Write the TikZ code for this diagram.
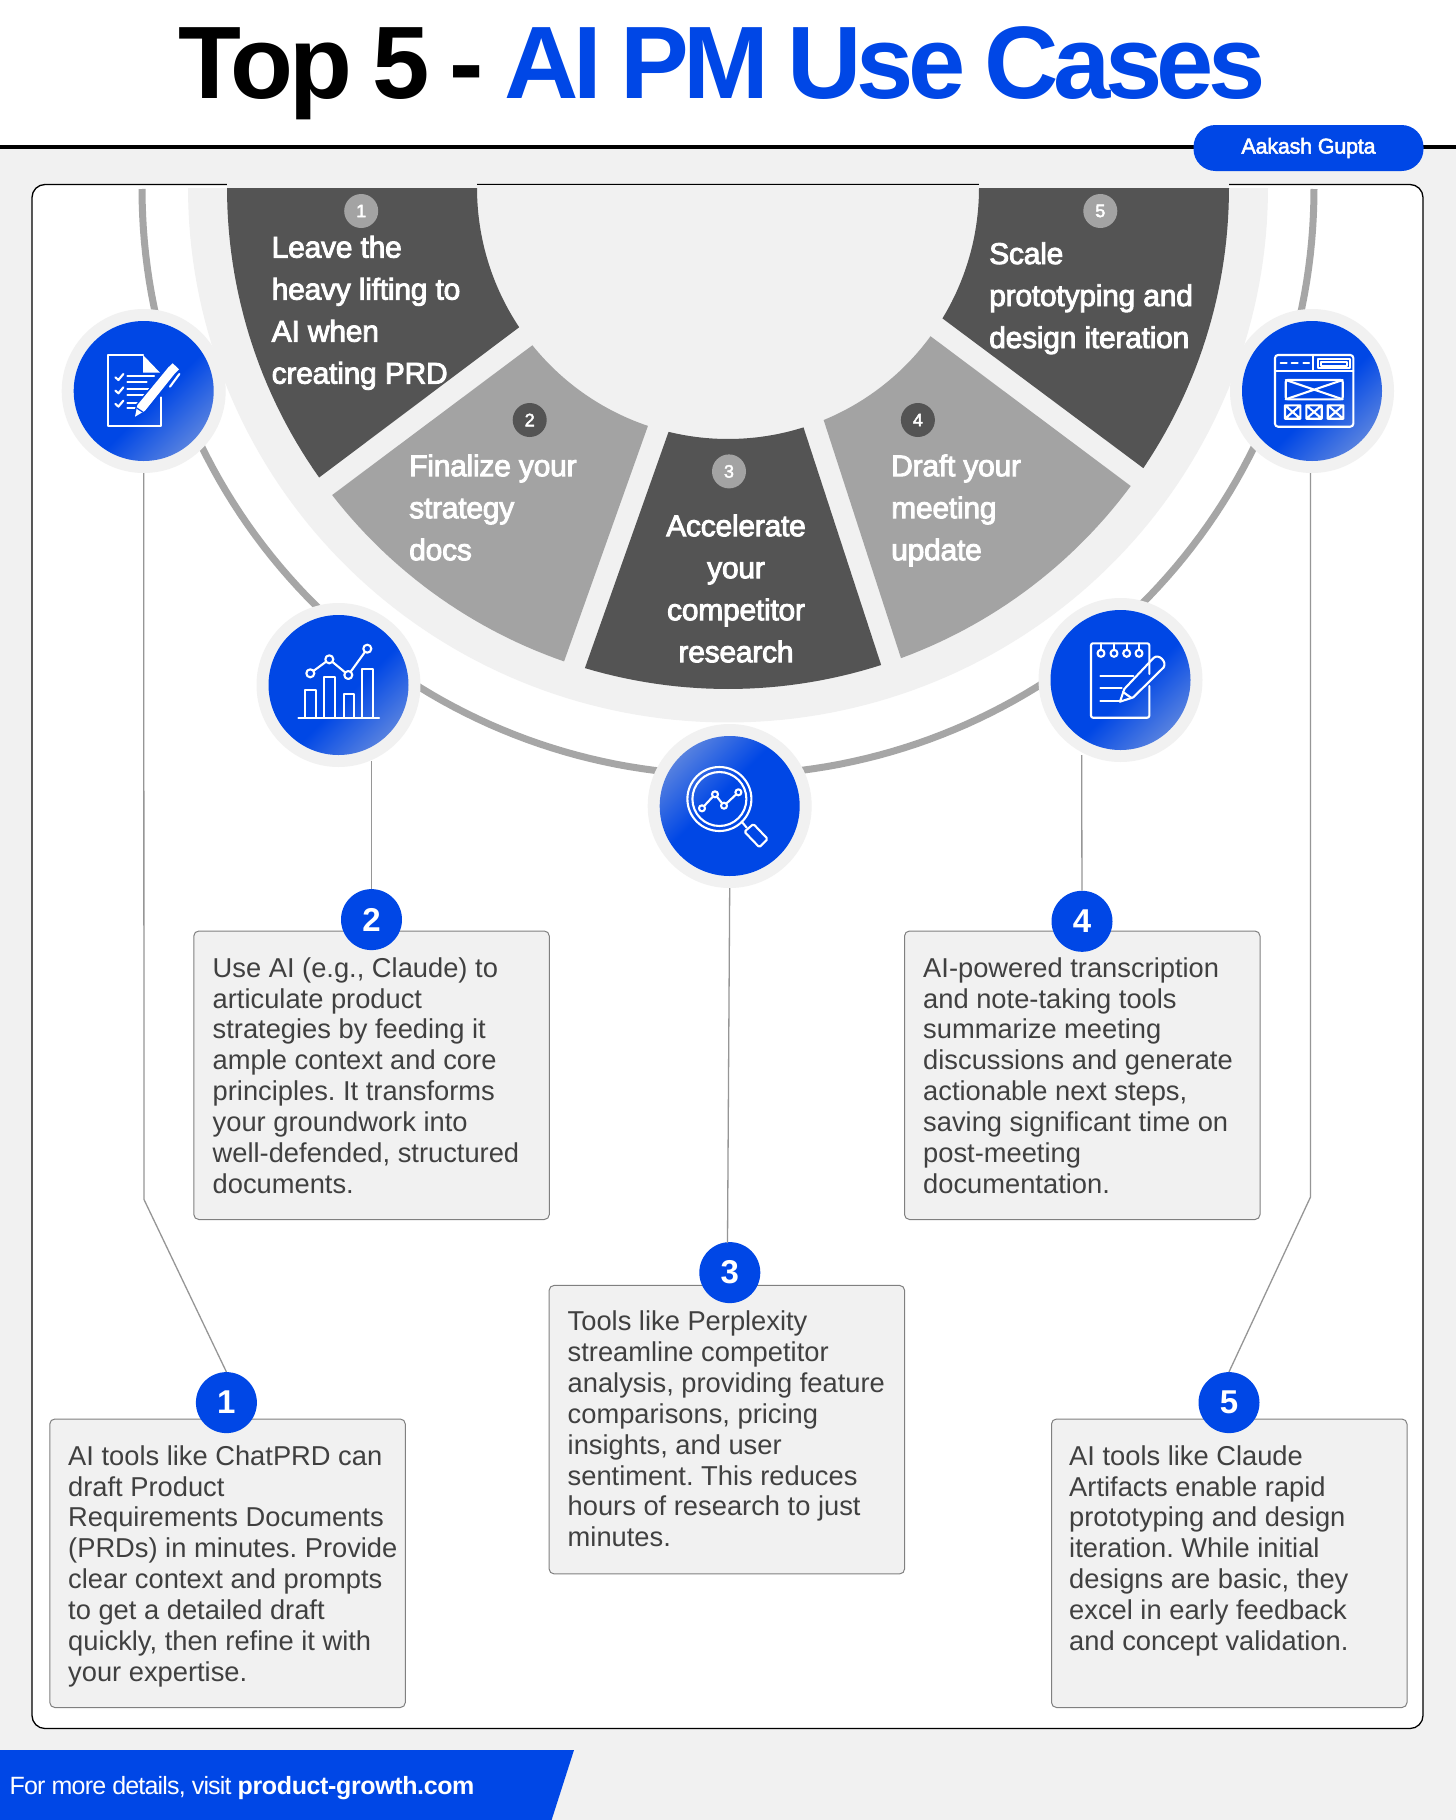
\documentclass[tikz,border=0pt]{standalone}
\usepackage{fontspec}
\setmainfont{Liberation Sans}
\newfontfamily\titlefont[LetterSpace=-3.5,WordSpace=0.8]{Liberation Sans Bold}
\newfontfamily\titlebluefont[LetterSpace=-5.3,WordSpace=0.8]{Liberation Sans Bold}
\newfontfamily\wheelfont[LetterSpace=-0.8,FakeBold=3]{Liberation Sans}
\newfontfamily\pillfont[LetterSpace=-1,FakeBold=2.5]{Liberation Sans}
\newfontfamily\footfont[LetterSpace=-3.3]{Liberation Sans}
\newfontfamily\footbold[LetterSpace=-1.5]{Liberation Sans Bold}
\newfontfamily\numfont{Liberation Sans Bold}
\newfontfamily\smallnumfont[FakeBold=2.5]{Liberation Sans}
\definecolor{brand}{RGB}{0,71,230}
\definecolor{panelbg}{RGB}{241,241,241}
\definecolor{wedgedark}{RGB}{84,84,84}
\definecolor{wedgelight}{RGB}{163,163,163}
\definecolor{ringgray}{RGB}{166,166,166}
\definecolor{connector}{RGB}{150,150,150}
\definecolor{bodyink}{RGB}{64,64,64}
\pgfdeclarehorizontalshading{iconglow}{100bp}{rgb(0bp)=(0,.278,.9); rgb(55bp)=(0,.278,.9); rgb(80bp)=(.42,.56,.87); rgb(100bp)=(.42,.56,.87)}
\tikzset{
  halo/.style={circle,fill=panelbg,minimum size=164pt,inner sep=0pt},
  core/.style={circle,shade,shading=iconglow,shading angle=-45,minimum size=140pt,inner sep=0pt},
  glyph/.style={draw=white,line width=2.1pt,line join=round,line cap=round},
  glyphhole/.style={glyph,fill=brand},
  infobox/.style={draw=gray,line width=1pt,fill=panelbg,rounded corners=5pt,minimum width=355.5pt,minimum height=288.5pt,inner sep=0pt,anchor=north west},
  bodytext/.style={anchor=north west,inner sep=0pt,align=left,text=bodyink,font=\frenchspacing\fontsize{27.3}{30.85}\selectfont},
  wheeltext/.style={anchor=north west,inner sep=0pt,align=left,text=white,font=\wheelfont\fontsize{30}{42}\selectfont},
  wheelcenter/.style={wheeltext,anchor=north,align=center},
  bignum/.style={circle,fill=brand,text=white,minimum size=61pt,inner sep=0pt,font=\numfont\fontsize{33}{33}\selectfont},
  smallnum/.style={circle,text=white,minimum size=34pt,inner sep=0pt,font=\smallnumfont\fontsize{18}{18}\selectfont},
  link/.style={draw=connector,line width=1.3pt},
}
\newcommand\wheelseg[5]{\fill[#5] plot[domain=#1:#2,samples=30] ({728+501*cos(\x)},{188+501*sin(\x)}) -- plot[domain=#3:#4,samples=30] ({728+251*cos(\x)},{188+251*sin(\x)}) -- cycle;}
\begin{document}
\begin{tikzpicture}[x=1pt,y=-1pt]
\useasboundingbox (0,0) rectangle (1456,1820);
\fill[white] (0,0) rectangle (1456,147);
\fill[panelbg] (0,147) rectangle (1456,1820);
\draw[black,line width=4pt] (0,147) -- (1456,147);
% panel
\draw[black,line width=1.3pt,fill=white,rounded corners=13pt] (32,184.5) rectangle (1423,1728.5);
% ring
\draw[ringgray,line width=7pt] plot[domain=180:0,samples=140] ({728+586*cos(\x)},{189+586*sin(\x)});
% band
\fill[panelbg] plot[domain=180:0,samples=140] ({728+540*cos(\x)},{188+534.5*sin(\x)}) -- cycle;
% gaps in the panel edge above the dark wedges and the inner disc
\fill[panelbg] (226.6,183) rectangle (477,188.5);
\fill[panelbg] (979,183) rectangle (1229.4,188.5);
\fill[panelbg] (477,185.2) rectangle (979,189);
% wedges
\wheelseg{180}{144.7}{146.3}{180}{wedgedark}
\wheelseg{142.2}{109.1}{108.6}{141.2}{wedgelight}
\wheelseg{106.6}{72.2}{72.5}{103.7}{wedgedark}
\wheelseg{69.8}{36.5}{36.2}{67.6}{wedgelight}
\wheelseg{34}{0}{0}{31.3}{wedgedark}
% wheel numbers
\node[smallnum,fill=wedgelight] (w1) at (361.2,211) {1};
\node[smallnum,fill=wedgedark] (w2) at (529.7,420) {2};
\node[smallnum,fill=wedgelight] (w3) at (729,471.4) {3};
\node[smallnum,fill=wedgedark] (w4) at (917.9,420) {4};
\node[smallnum,fill=wedgelight] (w5) at (1100.3,211) {5};
% wheel labels
\node[wheeltext] (t1) at (271.5,228) {\strut Leave the\\heavy lifting to\\AI when\\creating PRD};
\node[wheeltext] (t2) at (409,446.6) {\strut Finalize your\\strategy\\docs};
\node[wheelcenter] (t3) at (736,506.6) {\strut Accelerate\\your\\competitor\\research};
\node[wheeltext] (t4) at (891,446.6) {\strut Draft your\\meeting\\update};
\node[wheeltext] (t5) at (989,234.4) {\strut Scale\\prototyping and\\design iteration};
% icons
\node[halo] (ic1) at (143.7,391) {};
\node[core] (c1) at (ic1) {};
\node[halo] (ic2) at (338.5,685) {};
\node[core] (c2) at (ic2) {};
\node[halo] (ic3) at (729.7,806) {};
\node[core,shading angle=135] (c3) at (ic3) {};
\node[halo] (ic4) at (1120.5,680) {};
\node[core] (c4) at (ic4) {};
\node[halo] (ic5) at (1312,391) {};
\node[core] (c5) at (ic5) {};
% icon 1: document and pen
\begin{scope}[shift={(143.7,391)}]
\draw[glyph] (-0.7,-36) -- (-35.3,-36) -- (-35.3,35) -- (17,35) -- (17,6.3);
\fill[white] (-0.7,-36) -- (16.3,-18.3) -- (-0.7,-18.3) -- cycle;
\foreach \d in {0,13.3,26.6}{\draw[glyph] (-28.3,-13.7+\d) -- (-25.3,-11+\d) -- (-20.3,-17+\d);}
\draw[glyph] (-16.3,-15) -- (10.3,-15) (-16.3,-9.3) -- (3,-9.3) (-16.3,-1.7) -- (6.3,-1.7) (-16.3,4) -- (1.3,4) (-16.3,11.7) -- (-3.7,11.7) (-16.3,17.3) -- (-7.7,17.3);
\filldraw[fill=white,draw=brand,line width=3pt,line join=round] (-8.7,25.7) -- (-6.3,14) -- (24.7,-23.7) -- (29,-27.7) -- (35.3,-21.7) -- (31.3,-17.7) -- (1.3,19.7) -- cycle;
\fill[white] (-8.7,25.7) -- (-6.3,14) -- (24.7,-23.7) -- (29,-27.7) -- (35.3,-21.7) -- (31.3,-17.7) -- (1.3,19.7) -- cycle;
\draw[brand,line width=1.2pt] (-7,17) -- (-1,21);
\draw[glyph] (35.7,-17) -- (26.3,-4.3);
\end{scope}
% icon 2: chart
\begin{scope}[shift={(338.5,685)}]
\draw[glyph] (-40.2,32.7) -- (40.5,32.7);
\draw[glyph] (-33.5,32.7) -- (-33.5,5) -- (-22.8,5) -- (-22.8,32.7);
\draw[glyph] (-14.5,32.7) -- (-14.5,-7.7) -- (-3.8,-7.7) -- (-3.8,32.7);
\draw[glyph] (5.5,32.7) -- (5.5,9.3) -- (15.8,9.3) -- (15.8,32.7);
\draw[glyph] (23.5,32.7) -- (23.5,-15.7) -- (34.8,-15.7) -- (34.8,32.7);
\draw[glyph] (-28.2,-11.7) -- (-9.2,-25.7) -- (9.8,-10) -- (28.8,-36.3);
\foreach \px/\py in {-28.2/-11.7,-9.2/-25.7,9.8/-10,28.8/-36.3}{\draw[glyphhole] (\px,\py) circle[radius=4pt];}
\end{scope}
% icon 3: magnifier
\begin{scope}[shift={(729.7,806)}]
\draw[glyph] (-10.3,-7) circle[radius=32pt] (-10.3,-7) circle[radius=27pt];
\draw[glyph] (12,15.7) -- (17,21.7);
\draw[glyph,rounded corners=1.5pt] (23.7,18) -- (38,33) -- (29.7,41.3) -- (14.7,25.7) -- cycle;
\draw[glyph] (-27.7,2.3) -- (-14.7,-11.7) -- (-5.7,-0.3) -- (8.7,-13.7);
\foreach \px/\py in {-27.7/2.3,-14.7/-11.7,-5.7/-0.3,8.7/-13.7}{\draw[glyphhole] (\px,\py) circle[radius=3pt];}
\end{scope}
% icon 4: notebook
\begin{scope}[shift={(1120.5,680)}]
\draw[glyph,rounded corners=2pt] (28.8,-6) -- (28.8,-36.7) -- (-29.5,-36.7) -- (-29.5,37.7) -- (28.8,37.7) -- (28.8,6);
\foreach \px in {-19.5,-6.5,6.2,18.5}{\draw[glyph] (\px,-36.7) -- (\px,-30); \draw[glyph] (\px,-26.7) circle[radius=3.5pt];}
\draw[glyph] (-20.2,-4) -- (12.8,-4) (-20.2,8.3) -- (1.2,8.3) (-20.2,21) -- (-0.5,21);
\draw[glyph] (-0.5,21.7) -- (3.8,9) -- (33,-22) .. controls (38,-27) and (47,-18) .. (43,-12.5) -- (12.8,17.3) -- cycle;
\draw[glyph] (2.5,12) -- (11,18);
\end{scope}
% icon 5: wireframe
\begin{scope}[shift={(1312,391)}]
\draw[glyph,rounded corners=3pt] (-37,-36) rectangle (41.3,35.7);
\draw[glyph] (-37,-20) -- (41.3,-20) (1.3,-36) -- (1.3,-20);
\draw[glyph] (-31.3,-28.3) -- (-25.3,-28.3) (-20.3,-28.3) -- (-14.3,-28.3) (-8.7,-28.3) -- (-3,-28.3);
\draw[glyph] (5.7,-31.7) rectangle (38,-22.7) (9,-29) rectangle (35.3,-25.3);
\draw[glyph,rounded corners=2pt] (-26.3,-11) rectangle (30.7,8.3);
\draw[glyph] (-26.3,-11) -- (30.7,8.3) (-26.3,8.3) -- (30.7,-11);
\foreach \a/\b in {-27/-11.7,-5.7/9.7,15.7/31.3}{\draw[glyph] (\a,14.3) rectangle (\b,27.7) (\a,14.3) -- (\b,27.7) (\a,27.7) -- (\b,14.3);}
\end{scope}
% boxes
\node[infobox] (b1) at (49.3,1418.5) {};
\node[infobox] (b2) at (193.3,930.5) {};
\node[infobox] (b3) at (548.6,1284.9) {};
\node[infobox] (b4) at (904,930.5) {};
\node[infobox] (b5) at (1051,1418.5) {};
\node[bodytext] (p1) at (68,1443.4) {\strut AI tools like ChatPRD can\\draft Product\\Requirements Documents\\(PRDs) in minutes. Provide\\clear context and prompts\\to get a detailed draft\\quickly, then refine it with\\your expertise.};
\node[bodytext] (p2) at (212.5,955.4) {\strut Use AI (e.g., Claude) to\\articulate product\\strategies by feeding it\\ample context and core\\principles. It transforms\\your groundwork into\\well-defended, structured\\documents.};
\node[bodytext] (p3) at (567.5,1309) {\strut Tools like Perplexity\\streamline competitor\\analysis, providing feature\\comparisons, pricing\\insights, and user\\sentiment. This reduces\\hours of research to just\\minutes.};
\node[bodytext] (p4) at (923,955.4) {\strut AI-powered transcription\\and note-taking tools\\summarize meeting\\discussions and generate\\actionable next steps,\\saving significant time on\\post-meeting\\documentation.};
\node[bodytext] (p5) at (1069,1443.4) {\strut AI tools like Claude\\Artifacts enable rapid\\prototyping and design\\iteration. While initial\\designs are basic, they\\excel in early feedback\\and concept validation.};
% numbers
\node[bignum] (n1) at (226.4,1402.6) {1};
\node[bignum] (n2) at (371.5,919.6) {2};
\node[bignum] (n3) at (729.8,1272.6) {3};
\node[bignum] (n4) at (1082,921.3) {4};
\node[bignum] (n5) at (1229,1402.6) {5};
% connectors
\coordinate (k1) at (144,1199.5);
\coordinate (k5) at (1310.5,1197);
\coordinate (s2) at (371.5,761);
\coordinate (s3) at (729.7,888);
\coordinate (e3) at (727.5,1243);
\coordinate (s4) at (1081.7,755);
\coordinate (s5) at (1310.5,473);
\draw[link] (ic1) -- (k1) -- (n1.north);
\draw[link] (s2) -- (n2);
\draw[link] (s3) -- (e3);
\draw[link] (s4) -- (n4);
\draw[link] (s5) -- (k5) -- (n5.north);
% pill
\node[fill=brand,rounded corners=22pt,minimum width=230pt,minimum height=46pt,inner sep=0pt,text=white,font=\pillfont\fontsize{21.5}{21.5}\selectfont] (pill) at (1308.5,148) {\raisebox{-2pt}{Aakash Gupta}};
% title
\node[anchor=base west,inner sep=0pt,font=\titlefont\fontsize{103}{103}\selectfont] (title) at (178.5,98) {Top 5 - \textcolor{brand}{\titlebluefont AI PM Use Cases}};
% footer
\fill[brand] (0,1750) -- (574,1750) -- (551.6,1820) -- (0,1820) -- cycle;
\node[anchor=base west,inner sep=0pt,text=white,font=\fontsize{25}{25}\selectfont] (foot) at (9.5,1794) {\footfont For more details, visit {\footbold product-growth.com}};
\end{tikzpicture}
\end{document}
